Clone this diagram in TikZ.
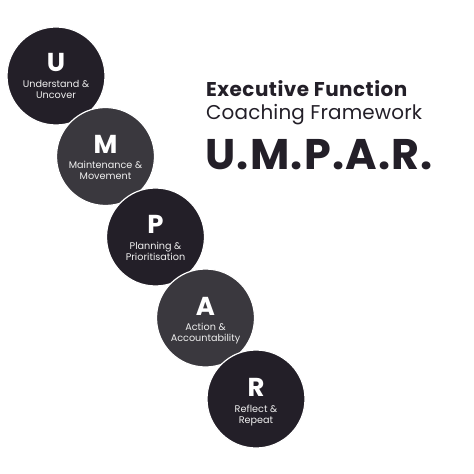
\documentclass[tikz,border=0pt]{standalone}
\usepackage{fontspec}
\setmainfont{Poppins}
\usetikzlibrary{calc}
\definecolor{dk}{HTML}{231F28}
\definecolor{md}{HTML}{3A383E}
\definecolor{ttl}{HTML}{231F28}
\begin{document}
\begin{tikzpicture}[x=1bp,y=-1bp,
  disc/.style={circle, minimum size=98bp, inner sep=0pt, draw=white, line width=1.2bp},
  bigl/.style={text=white, anchor=base, inner sep=0pt, font=\fontsize{26}{26}\selectfont\bfseries},
  smallt/.style={text=white!94!black, anchor=base, inner sep=0pt, font=\fontsize{9.7}{11}\selectfont},
  title/.style={text=ttl, anchor=base west, inner sep=0pt}]
\useasboundingbox (0,0) rectangle (474,474);
\fill[white] (0,0) rectangle (474,474);

\node[disc, fill=dk] (u) at (56,76) {};
\node[disc, fill=md] (m) at (105.5,156.5) {};
\node[disc, fill=dk] (p) at (155.5,237) {};
\node[disc, fill=md] (a) at (205.5,318) {};
\node[disc, fill=dk] (r) at (256,399) {};

\node[bigl] (uL) at ($(u)+(0,-4)$) {U};
\node[smallt] (u1) at ($(u)+(0,12)$) {Understand \&};
\node[smallt] (u2) at ($(u)+(0,23)$) {Uncover};

\node[bigl] (mL) at ($(m)+(0,-3)$) {M};
\node[smallt] (m1) at ($(m)+(0,12)$) {Maintenance \&};
\node[smallt] (m2) at ($(m)+(0,23)$) {Movement};

\node[bigl] (pL) at ($(p)+(0,-3)$) {P};
\node[smallt] (p1) at ($(p)+(0,12)$) {Planning \&};
\node[smallt] (p2) at ($(p)+(0,23)$) {Prioritisation};

\node[bigl] (aL) at ($(a)+(0,-3)$) {A};
\node[smallt] (a1) at ($(a)+(0,12)$) {Action \&};
\node[smallt] (a2) at ($(a)+(0,23)$) {Accountability};

\node[bigl] (rL) at ($(r)+(0,-3)$) {R};
\node[smallt] (r1) at ($(r)+(0,13)$) {Reflect \&};
\node[smallt] (r2) at ($(r)+(0,24)$) {Repeat};

\node[title, font=\fontsize{20}{20}\selectfont\bfseries\addfontfeature{LetterSpace=2.5}] (t1) at (206,97) {Executive Function};
\node[title, font=\fontsize{20}{20}\selectfont\addfontfeature{LetterSpace=0.8}] (t2) at (206,120) {Coaching Framework};
\node[title, font=\fontsize{43}{43}\selectfont\bfseries\addfontfeature{LetterSpace=3}] (t3) at (205,170) {U.M.P.A.R.};
\end{tikzpicture}
\end{document}
